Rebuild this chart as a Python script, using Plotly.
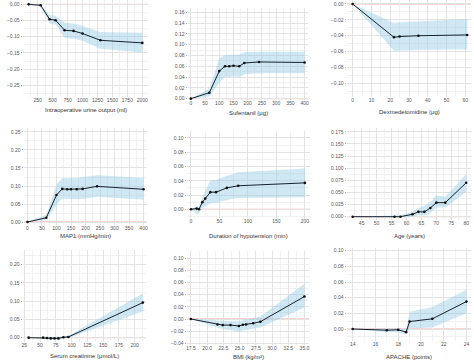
import plotly.graph_objects as go

# ---------------- data ----------------
urine_x = [100, 300, 450, 550, 700, 850, 1000, 1300, 2000]
urine_y = [0, -0.003, -0.046, -0.049, -0.080, -0.082, -0.090, -0.111, -0.119]
urine_lo = [0, -0.007, -0.059, -0.062, -0.104, -0.106, -0.112, -0.137, -0.149]
urine_hi = [0, 0.0, -0.033, -0.035, -0.057, -0.059, -0.067, -0.085, -0.088]

suf_x = [0, 65, 100, 120, 135, 150, 170, 188, 240, 400]
suf_y = [0, 0.011, 0.051, 0.060, 0.060, 0.061, 0.060, 0.066, 0.068, 0.067]
suf_lo = [0, 0.004, 0.030, 0.040, 0.040, 0.041, 0.040, 0.045, 0.047, 0.047]
suf_hi = [0, 0.019, 0.075, 0.081, 0.081, 0.082, 0.082, 0.086, 0.087, 0.087]

dex_x = [0, 22, 25, 35, 61]
dex_y = [0, -0.042, -0.041, -0.040, -0.039]
dex_lo = [0, -0.059, -0.059, -0.058, -0.057]
dex_hi = [0, -0.024, -0.023, -0.022, -0.019]

map_x = [0, 65, 100, 120, 137, 150, 170, 190, 240, 400]
map_y = [0, 0.012, 0.075, 0.092, 0.091, 0.091, 0.091, 0.092, 0.099, 0.091]
map_lo = [0, 0.006, 0.048, 0.066, 0.064, 0.063, 0.063, 0.064, 0.070, 0.062]
map_hi = [0, 0.020, 0.104, 0.122, 0.122, 0.122, 0.123, 0.125, 0.130, 0.122]

hyp_x = [0, 10, 14, 20, 25, 34, 44, 63, 83, 200]
hyp_y = [0, 0.001, 0, 0.010, 0.015, 0.024, 0.024, 0.030, 0.033, 0.037]
hyp_lo = [0, -0.007, -0.006, 0.002, 0.004, 0.008, 0.009, 0.013, 0.016, 0.017]
hyp_hi = [0, 0.004, 0.004, 0.016, 0.026, 0.040, 0.041, 0.047, 0.052, 0.057]

age_x = [42, 56, 58, 62, 64, 66, 68, 70, 73, 80]
age_y = [0, 0, 0, 0.005, 0.010, 0.010, 0.018, 0.029, 0.029, 0.070]
age_lo = [0, -0.001, -0.001, 0.000, 0.003, 0.003, 0.008, 0.019, 0.019, 0.051]
age_hi = [0, 0.002, 0.003, 0.010, 0.018, 0.022, 0.030, 0.044, 0.041, 0.088]

scr_x = [32, 55, 61, 67, 73, 79, 87, 95, 213]
scr_y = [0, 0, -0.001, -0.002, -0.002, -0.002, 0.001, 0.002, 0.096]
scr_lo = [0, -0.001, -0.003, -0.004, -0.005, -0.005, -0.002, -0.001, 0.072]
scr_hi = [0, 0.001, 0.001, 0.001, 0.001, 0.001, 0.003, 0.005, 0.121]

bmi_x = [17.5, 21.6, 22.4, 23.6, 24.9, 25.5, 26.0, 27.1, 28.2, 35.0]
bmi_y = [0, -0.009, -0.010, -0.010, -0.0115, -0.0095, -0.009, -0.007, -0.0045, 0.037]
bmi_lo = [0, -0.015, -0.017, -0.018, -0.021, -0.019, -0.018, -0.016, -0.014, 0.019]
bmi_hi = [0, -0.002, -0.003, -0.003, -0.004, -0.002, -0.001, 0.001, 0.004, 0.058]

apa_x = [14, 17, 18, 18.7, 19, 21, 24]
apa_y = [0, -0.0015, -0.001, -0.004, 0.0095, 0.013, 0.035]
apa_lo = [0, -0.004, -0.004, -0.007, 0.0005, 0.002, 0.020]
apa_hi = [0, 0.001, 0.001, -0.001, 0.022, 0.028, 0.050]

titles = ["Intraoperative urine output (ml)", "Sufentanil (μg)", "Dexmedetomidine (μg)",
          "MAP1 (mmHg/min)", "Duration of hypotension (min)", "Age (years)",
          "Serum creatinine (μmol/L)", "BMI (kg/m²)", "APACHE (points)"]

series = [
    (urine_x, urine_y, urine_lo, urine_hi),
    (suf_x, suf_y, suf_lo, suf_hi),
    (dex_x, dex_y, dex_lo, dex_hi),
    (map_x, map_y, map_lo, map_hi),
    (hyp_x, hyp_y, hyp_lo, hyp_hi),
    (age_x, age_y, age_lo, age_hi),
    (scr_x, scr_y, scr_lo, scr_hi),
    (bmi_x, bmi_y, bmi_lo, bmi_hi),
    (apa_x, apa_y, apa_lo, apa_hi),
]

# ---------------- layout config (pixels) ----------------
W, H = 474, 361
# (x0px, x1px, y0px, y1px, xrange, yrange, xtick0, xdtick, ydtick, xfmt, yfmt, title_y_px)
panels = [
    (23, 148, 0, 97, [5, 2095], [-0.286, 0.0134], 250, 250, 0.05, "d", ".2f", 110),
    (188, 308, 8.3, 100, [-10, 412], [-0.0025, 0.1674], 0, 50, 0.02, "d", ".2f", 113),
    (347, 471, 0, 96.7, [-3, 63], [-0.1168, 0.005], 0, 10, 0.02, "d", ".2f", 112),
    (24, 147, 128, 224.7, [-12, 412], [-0.0074, 0.261], 0, 50, 0.05, "d", ".2f", 235.5),
    (187, 310, 131.3, 218, [-7, 209], [-0.0122, 0.1093], 0, 50, 0.02, "d", ".2f", 235.5),
    (347, 471, 128, 219.7, [40.1, 81.6], [-0.0062, 0.183], 45, 5, 0.025, "d", ".3f", 236),
    (23, 146, 249.7, 342, [23, 218], [-0.0119, 0.241], 25, 25, 0.05, "d", ".2f", 356),
    (187, 309, 251.3, 345.3, [16.9, 35.7], [-0.0433, 0.1115], 17.5, 2.5, 0.02, ".1f", ".2f", 356.5),
    (347, 471, 248, 341.3, [13.5, 24.4], [-0.0157, 0.1034], 14, 2, 0.02, "d", ".2f", 356.5),
]

LINE = "#16222e"
BAND = "rgba(140,200,228,0.42)"
REF = "rgba(235,90,80,0.75)"
MAJ = "#e3e3e3"
MIN = "#f1f1f1"
TICKC = "#555555"
FONT = "Liberation Sans"

fig = go.Figure()
layout = dict(width=W, height=H, margin=dict(l=0, r=0, t=0, b=0),
              paper_bgcolor="white", plot_bgcolor="white", showlegend=False,
              font=dict(family=FONT, size=5, color=TICKC))
shapes = []
annotations = []

for i, ((xs, ys, lo, hi), cfg, title) in enumerate(zip(series, panels, titles)):
    x0, x1, y0, y1, xr, yr, xt0, xdt, ydt, xfmt, yfmt, ty = cfg
    n = i + 1
    xa = "x" if n == 1 else f"x{n}"
    ya = "y" if n == 1 else f"y{n}"
    xkey = "xaxis" if n == 1 else f"xaxis{n}"
    ykey = "yaxis" if n == 1 else f"yaxis{n}"

    fig.add_trace(go.Scatter(x=xs, y=lo, mode="lines", line=dict(width=0, color=BAND),
                             hoverinfo="skip", xaxis=xa, yaxis=ya))
    fig.add_trace(go.Scatter(x=xs, y=hi, mode="lines", line=dict(width=0, color=BAND),
                             fill="tonexty", fillcolor=BAND, hoverinfo="skip",
                             xaxis=xa, yaxis=ya))
    fig.add_trace(go.Scatter(x=xs, y=ys, mode="lines+markers",
                             line=dict(color=LINE, width=1),
                             marker=dict(size=2.6, color="#111111"),
                             xaxis=xa, yaxis=ya))

    layout[xkey] = dict(domain=[x0 / W, x1 / W], range=xr, anchor=ya,
                        tick0=xt0, dtick=xdt, tickformat=xfmt, automargin=False,
                        showgrid=True, gridcolor=MAJ, gridwidth=0.8,
                        minor=dict(showgrid=True, gridcolor=MIN, gridwidth=0.5,
                                   tick0=xt0, dtick=xdt / 2),
                        zeroline=False, showline=False,
                        ticks="", ticklabelstandoff=-1,
                        tickfont=dict(size=5, color=TICKC, family=FONT))
    layout[ykey] = dict(domain=[1 - y1 / H, 1 - y0 / H], range=yr, anchor=xa,
                        dtick=ydt, tick0=0, tickformat=yfmt, automargin=False,
                        showgrid=True, gridcolor=MAJ, gridwidth=0.8,
                        minor=dict(showgrid=True, gridcolor=MIN, gridwidth=0.5,
                                   tick0=0, dtick=ydt / 2),
                        zeroline=False, showline=False,
                        ticks="outside", ticklen=1.5, tickcolor="#aaaaaa", tickwidth=0.5,
                        tickfont=dict(size=5, color=TICKC, family=FONT))

    shapes.append(dict(type="line", xref=f"{xa} domain", yref=ya, x0=0, x1=1, y0=0, y1=0,
                       line=dict(color=REF, width=0.7), layer="below"))

    annotations.append(dict(text=title, xref="paper", yref="paper",
                            x=((x0 + x1) / 2) / W, y=1 - ty / H,
                            xanchor="center", yanchor="middle", showarrow=False,
                            font=dict(size=6, color="#333333", family=FONT)))

layout["shapes"] = shapes
layout["annotations"] = annotations
fig.update_layout(**layout)
fig.write_html("out.html", config={"displayModeBar": False},
               post_script="document.body.style.margin='0';document.body.style.padding='0';document.body.style.overflow='hidden';")
